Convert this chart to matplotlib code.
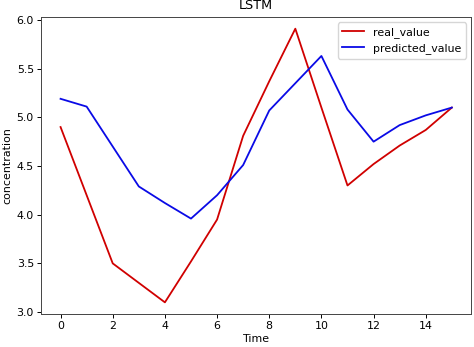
import matplotlib
matplotlib.use("Agg")
import matplotlib.pyplot as plt

# time steps and the two series
time = list(range(16))
real_value = [4.9, 4.2, 3.5, 3.3, 3.1, 3.52, 3.95, 4.81, 5.37, 5.91,
              5.1, 4.3, 4.52, 4.71, 4.87, 5.1]
predicted_value = [5.19, 5.11, 4.7, 4.29, 4.12, 3.96, 4.2, 4.51, 5.07, 5.35,
                   5.63, 5.08, 4.75, 4.92, 5.02, 5.1]

plt.rcParams["font.size"] = 7.9

fig = plt.figure(figsize=(4.74, 3.47), dpi=100)
ax = fig.add_axes([0.0865, 0.095, 0.908, 0.856])

ax.plot(time, real_value, color="#d00000", linewidth=1.3, label="real_value")
ax.plot(time, predicted_value, color="#0a0ae6", linewidth=1.3, label="predicted_value")

ax.set_title("LSTM", fontsize=9.2)
ax.set_xlabel("Time", labelpad=2)
ax.set_ylabel("concentration", labelpad=3)
ax.set_xticks(range(0, 16, 2))
ax.set_yticks([3.0, 3.5, 4.0, 4.5, 5.0, 5.5, 6.0])
ax.set_ylim(2.98, 6.03)
for sp in ax.spines.values():
    sp.set_linewidth(0.7)
    sp.set_color("#444444")
ax.tick_params(width=0.7, length=2.6, pad=2.5)
ax.legend(loc="upper right")

fig.savefig("out.png", dpi=100)
